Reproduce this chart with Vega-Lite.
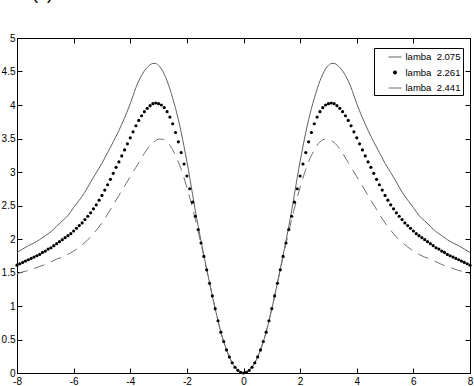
{
  "$schema": "https://vega.github.io/schema/vega-lite/v6.json",
  "width": 453,
  "height": 335,
  "autosize": "none",
  "padding": {"left": 17, "top": 38, "right": 4, "bottom": 13},
  "background": "white",
  "config": {
    "font": "Liberation Sans",
    "view": {"stroke": "black", "strokeWidth": 1},
    "axis": {"domainColor": "black", "tickColor": "black", "labelColor": "black", "grid": false, "tickSize": -5, "labelFontSize": 10, "labelFont": "Liberation Sans", "title": null, "domainWidth": 1, "tickWidth": 1}
  },
  "datasets": {
    "solid": [
      {"x":-8,"y":1.8},{"x":-7.8,"y":1.85},{"x":-7.6,"y":1.9},{"x":-7.4,"y":1.94},{"x":-7.2,"y":1.99},{"x":-7,"y":2.05},{"x":-6.8,"y":2.11},{"x":-6.6,"y":2.19},{"x":-6.4,"y":2.27},{"x":-6.2,"y":2.35},{"x":-6,"y":2.47},{"x":-5.8,"y":2.58},{"x":-5.6,"y":2.7},{"x":-5.4,"y":2.85},{"x":-5.2,"y":2.99},{"x":-5,"y":3.13},{"x":-4.8,"y":3.29},{"x":-4.6,"y":3.45},{"x":-4.4,"y":3.62},{"x":-4.2,"y":3.81},{"x":-4,"y":4.02},{"x":-3.9,"y":4.14},{"x":-3.8,"y":4.26},{"x":-3.7,"y":4.36},{"x":-3.6,"y":4.44},{"x":-3.5,"y":4.51},{"x":-3.4,"y":4.56},{"x":-3.3,"y":4.6},{"x":-3.2,"y":4.62},{"x":-3.1,"y":4.62},{"x":-3,"y":4.59},{"x":-2.9,"y":4.54},{"x":-2.8,"y":4.46},{"x":-2.7,"y":4.36},{"x":-2.6,"y":4.24},{"x":-2.5,"y":4.1},{"x":-2.4,"y":3.95},{"x":-2.3,"y":3.78},{"x":-2.2,"y":3.59},{"x":-2.1,"y":3.38},{"x":-2,"y":3.16},{"x":-1.9,"y":2.92},{"x":-1.8,"y":2.67},{"x":-1.7,"y":2.42},{"x":-1.6,"y":2.19},{"x":-1.5,"y":1.97},{"x":-1.4,"y":1.76},{"x":-1.3,"y":1.55},{"x":-1.2,"y":1.35},{"x":-1.1,"y":1.15},{"x":-1,"y":0.96},{"x":-0.9,"y":0.78},{"x":-0.8,"y":0.61},{"x":-0.7,"y":0.47},{"x":-0.6,"y":0.345},{"x":-0.5,"y":0.24},{"x":-0.4,"y":0.153},{"x":-0.3,"y":0.086},{"x":-0.2,"y":0.04},{"x":-0.1,"y":0.01},
      {"x":0,"y":0},
      {"x":0.1,"y":0.01},{"x":0.2,"y":0.04},{"x":0.3,"y":0.086},{"x":0.4,"y":0.153},{"x":0.5,"y":0.24},{"x":0.6,"y":0.345},{"x":0.7,"y":0.47},{"x":0.8,"y":0.61},{"x":0.9,"y":0.78},{"x":1,"y":0.96},{"x":1.1,"y":1.15},{"x":1.2,"y":1.35},{"x":1.3,"y":1.55},{"x":1.4,"y":1.76},{"x":1.5,"y":1.97},{"x":1.6,"y":2.19},{"x":1.7,"y":2.42},{"x":1.8,"y":2.67},{"x":1.9,"y":2.92},{"x":2,"y":3.16},{"x":2.1,"y":3.38},{"x":2.2,"y":3.59},{"x":2.3,"y":3.78},{"x":2.4,"y":3.95},{"x":2.5,"y":4.1},{"x":2.6,"y":4.24},{"x":2.7,"y":4.36},{"x":2.8,"y":4.46},{"x":2.9,"y":4.54},{"x":3,"y":4.59},{"x":3.1,"y":4.62},{"x":3.2,"y":4.62},{"x":3.3,"y":4.6},{"x":3.4,"y":4.56},{"x":3.5,"y":4.51},{"x":3.6,"y":4.44},{"x":3.7,"y":4.36},{"x":3.8,"y":4.26},{"x":3.9,"y":4.14},{"x":4,"y":4.02},{"x":4.2,"y":3.81},{"x":4.4,"y":3.62},{"x":4.6,"y":3.45},{"x":4.8,"y":3.29},{"x":5,"y":3.13},{"x":5.2,"y":2.99},{"x":5.4,"y":2.85},{"x":5.6,"y":2.7},{"x":5.8,"y":2.58},{"x":6,"y":2.47},{"x":6.2,"y":2.35},{"x":6.4,"y":2.27},{"x":6.6,"y":2.19},{"x":6.8,"y":2.11},{"x":7,"y":2.05},{"x":7.2,"y":1.99},{"x":7.4,"y":1.94},{"x":7.6,"y":1.9},{"x":7.8,"y":1.85},{"x":8,"y":1.8}
    ],
    "dash": [
      {"x":-8,"y":1.48},{"x":-7.8,"y":1.51},{"x":-7.6,"y":1.53},{"x":-7.4,"y":1.56},{"x":-7.2,"y":1.59},{"x":-7,"y":1.62},{"x":-6.8,"y":1.66},{"x":-6.6,"y":1.7},{"x":-6.4,"y":1.73},{"x":-6.2,"y":1.77},{"x":-6,"y":1.82},{"x":-5.8,"y":1.88},{"x":-5.6,"y":1.95},{"x":-5.4,"y":2.03},{"x":-5.2,"y":2.13},{"x":-5,"y":2.24},{"x":-4.8,"y":2.37},{"x":-4.6,"y":2.51},{"x":-4.4,"y":2.65},{"x":-4.2,"y":2.79},{"x":-4,"y":2.93},{"x":-3.9,"y":3.0},{"x":-3.8,"y":3.07},{"x":-3.7,"y":3.14},{"x":-3.6,"y":3.21},{"x":-3.5,"y":3.28},{"x":-3.4,"y":3.34},{"x":-3.3,"y":3.4},{"x":-3.2,"y":3.44},{"x":-3.1,"y":3.47},{"x":-3,"y":3.49},{"x":-2.9,"y":3.49},{"x":-2.8,"y":3.48},{"x":-2.7,"y":3.45},{"x":-2.6,"y":3.4},{"x":-2.5,"y":3.33},{"x":-2.4,"y":3.25},{"x":-2.3,"y":3.15},{"x":-2.2,"y":3.04},{"x":-2.1,"y":2.91},{"x":-2,"y":2.77},{"x":-1.9,"y":2.62},{"x":-1.8,"y":2.46},{"x":-1.7,"y":2.29},{"x":-1.6,"y":2.11},{"x":-1.5,"y":1.93},{"x":-1.4,"y":1.74},{"x":-1.2,"y":1.34},{"x":-1,"y":0.96},{"x":-0.8,"y":0.61},{"x":-0.6,"y":0.345},{"x":-0.4,"y":0.153},{"x":-0.2,"y":0.04},
      {"x":0,"y":0},
      {"x":0.2,"y":0.04},{"x":0.4,"y":0.153},{"x":0.6,"y":0.345},{"x":0.8,"y":0.61},{"x":1,"y":0.96},{"x":1.2,"y":1.34},{"x":1.4,"y":1.74},{"x":1.5,"y":1.93},{"x":1.6,"y":2.11},{"x":1.7,"y":2.29},{"x":1.8,"y":2.46},{"x":1.9,"y":2.62},{"x":2,"y":2.77},{"x":2.1,"y":2.91},{"x":2.2,"y":3.04},{"x":2.3,"y":3.15},{"x":2.4,"y":3.25},{"x":2.5,"y":3.33},{"x":2.6,"y":3.4},{"x":2.7,"y":3.45},{"x":2.8,"y":3.48},{"x":2.9,"y":3.49},{"x":3,"y":3.49},{"x":3.1,"y":3.47},{"x":3.2,"y":3.44},{"x":3.3,"y":3.4},{"x":3.4,"y":3.34},{"x":3.5,"y":3.28},{"x":3.6,"y":3.21},{"x":3.7,"y":3.14},{"x":3.8,"y":3.07},{"x":3.9,"y":3.0},{"x":4,"y":2.93},{"x":4.2,"y":2.79},{"x":4.4,"y":2.65},{"x":4.6,"y":2.51},{"x":4.8,"y":2.37},{"x":5,"y":2.24},{"x":5.2,"y":2.13},{"x":5.4,"y":2.03},{"x":5.6,"y":1.95},{"x":5.8,"y":1.88},{"x":6,"y":1.82},{"x":6.2,"y":1.77},{"x":6.4,"y":1.73},{"x":6.6,"y":1.7},{"x":6.8,"y":1.66},{"x":7,"y":1.62},{"x":7.2,"y":1.59},{"x":7.4,"y":1.56},{"x":7.6,"y":1.53},{"x":7.8,"y":1.51},{"x":8,"y":1.48}
    ],
    "dot": [
      {"x":-8,"y":1.61},{"x":-7.9,"y":1.63},{"x":-7.8,"y":1.65},{"x":-7.7,"y":1.67},{"x":-7.6,"y":1.69},{"x":-7.5,"y":1.71},{"x":-7.4,"y":1.73},{"x":-7.3,"y":1.75},{"x":-7.2,"y":1.77},{"x":-7.1,"y":1.8},{"x":-7,"y":1.82},{"x":-6.9,"y":1.85},{"x":-6.8,"y":1.87},{"x":-6.7,"y":1.9},{"x":-6.6,"y":1.93},{"x":-6.5,"y":1.96},{"x":-6.4,"y":1.99},{"x":-6.3,"y":2.02},{"x":-6.2,"y":2.05},{"x":-6.1,"y":2.08},{"x":-6,"y":2.12},{"x":-5.9,"y":2.16},{"x":-5.8,"y":2.2},{"x":-5.7,"y":2.24},{"x":-5.6,"y":2.29},{"x":-5.5,"y":2.34},{"x":-5.4,"y":2.39},{"x":-5.3,"y":2.45},{"x":-5.2,"y":2.51},{"x":-5.1,"y":2.58},{"x":-5,"y":2.65},{"x":-4.9,"y":2.73},{"x":-4.8,"y":2.81},{"x":-4.7,"y":2.89},{"x":-4.6,"y":2.98},{"x":-4.5,"y":3.07},{"x":-4.4,"y":3.15},{"x":-4.3,"y":3.24},{"x":-4.2,"y":3.33},{"x":-4.1,"y":3.42},{"x":-4,"y":3.51},{"x":-3.9,"y":3.6},{"x":-3.8,"y":3.69},{"x":-3.7,"y":3.77},{"x":-3.6,"y":3.84},{"x":-3.5,"y":3.9},{"x":-3.4,"y":3.95},{"x":-3.3,"y":3.99},{"x":-3.2,"y":4.02},{"x":-3.1,"y":4.03},{"x":-3,"y":4.02},{"x":-2.9,"y":4.0},{"x":-2.8,"y":3.96},{"x":-2.7,"y":3.9},{"x":-2.6,"y":3.82},{"x":-2.5,"y":3.72},{"x":-2.4,"y":3.59},{"x":-2.3,"y":3.45},{"x":-2.2,"y":3.29},{"x":-2.1,"y":3.12},{"x":-2,"y":2.94},{"x":-1.9,"y":2.75},{"x":-1.8,"y":2.55},{"x":-1.7,"y":2.34},{"x":-1.6,"y":2.14},{"x":-1.5,"y":1.94},{"x":-1.4,"y":1.74},{"x":-1.3,"y":1.54},{"x":-1.2,"y":1.34},{"x":-1.1,"y":1.15},{"x":-1,"y":0.96},{"x":-0.9,"y":0.78},{"x":-0.8,"y":0.61},{"x":-0.7,"y":0.47},{"x":-0.6,"y":0.345},{"x":-0.5,"y":0.24},{"x":-0.4,"y":0.153},{"x":-0.3,"y":0.086},{"x":-0.2,"y":0.04},{"x":-0.1,"y":0.01},
      {"x":0,"y":0},
      {"x":0.1,"y":0.01},{"x":0.2,"y":0.04},{"x":0.3,"y":0.086},{"x":0.4,"y":0.153},{"x":0.5,"y":0.24},{"x":0.6,"y":0.345},{"x":0.7,"y":0.47},{"x":0.8,"y":0.61},{"x":0.9,"y":0.78},{"x":1,"y":0.96},{"x":1.1,"y":1.15},{"x":1.2,"y":1.34},{"x":1.3,"y":1.54},{"x":1.4,"y":1.74},{"x":1.5,"y":1.94},{"x":1.6,"y":2.14},{"x":1.7,"y":2.34},{"x":1.8,"y":2.55},{"x":1.9,"y":2.75},{"x":2,"y":2.94},{"x":2.1,"y":3.12},{"x":2.2,"y":3.29},{"x":2.3,"y":3.45},{"x":2.4,"y":3.59},{"x":2.5,"y":3.72},{"x":2.6,"y":3.82},{"x":2.7,"y":3.9},{"x":2.8,"y":3.96},{"x":2.9,"y":4.0},{"x":3,"y":4.02},{"x":3.1,"y":4.03},{"x":3.2,"y":4.02},{"x":3.3,"y":3.99},{"x":3.4,"y":3.95},{"x":3.5,"y":3.9},{"x":3.6,"y":3.84},{"x":3.7,"y":3.77},{"x":3.8,"y":3.69},{"x":3.9,"y":3.6},{"x":4,"y":3.51},{"x":4.1,"y":3.42},{"x":4.2,"y":3.33},{"x":4.3,"y":3.24},{"x":4.4,"y":3.15},{"x":4.5,"y":3.07},{"x":4.6,"y":2.98},{"x":4.7,"y":2.89},{"x":4.8,"y":2.81},{"x":4.9,"y":2.73},{"x":5,"y":2.65},{"x":5.1,"y":2.58},{"x":5.2,"y":2.51},{"x":5.3,"y":2.45},{"x":5.4,"y":2.39},{"x":5.5,"y":2.34},{"x":5.6,"y":2.29},{"x":5.7,"y":2.24},{"x":5.8,"y":2.2},{"x":5.9,"y":2.16},{"x":6,"y":2.12},{"x":6.1,"y":2.08},{"x":6.2,"y":2.05},{"x":6.3,"y":2.02},{"x":6.4,"y":1.99},{"x":6.5,"y":1.96},{"x":6.6,"y":1.93},{"x":6.7,"y":1.9},{"x":6.8,"y":1.87},{"x":6.9,"y":1.85},{"x":7,"y":1.82},{"x":7.1,"y":1.8},{"x":7.2,"y":1.77},{"x":7.3,"y":1.75},{"x":7.4,"y":1.73},{"x":7.5,"y":1.71},{"x":7.6,"y":1.69},{"x":7.7,"y":1.67},{"x":7.8,"y":1.65},{"x":7.9,"y":1.63},{"x":8,"y":1.61}
    ],
    "panel": [{"label": "(c)", "x": -7.1, "y": 5.58}]
  },
  "resolve": {"axis": {"x": "independent", "y": "independent"}},
  "layer": [
    {
      "data": {"name": "solid"},
      "mark": {"type": "line", "strokeWidth": 1, "interpolate": "monotone"},
      "encoding": {
        "x": {"field": "x", "type": "quantitative", "scale": {"domain": [-8, 8], "nice": false, "zero": false},
              "axis": {"orient": "bottom", "values": [-8, -6, -4, -2, 0, 2, 4, 6, 8], "labelExpr": "'' + datum.value", "labelPadding": 8, "labelFlush": false}},
        "y": {"field": "y", "type": "quantitative", "scale": {"domain": [0, 5], "nice": false},
              "axis": {"orient": "left", "values": [0, 0.5, 1, 1.5, 2, 2.5, 3, 3.5, 4, 4.5, 5], "labelExpr": "'' + datum.value", "labelPadding": 7, "labelFlush": false}},
        "color": {"datum": "lamba\u00a0 2.075", "type": "nominal",
          "scale": {"domain": ["lamba\u00a0 2.075", "lamba\u00a0 2.261", "lamba\u00a0 2.441"], "range": ["#606060", "#000000", "#707070"]},
          "legend": {
            "title": null, "orient": "none", "legendX": 357, "legendY": 10,
            "strokeColor": "black", "fillColor": "white", "padding": 2,
            "symbolOffset": 12, "symbolSize": 100, "symbolType": "stroke", "symbolStrokeWidth": 1,
            "labelFontSize": 9.5, "labelFont": "Liberation Sans", "labelColor": "black", "labelOffset": 3.5, "rowPadding": 3.5,
            "encode": {"symbols": {"update": {
              "shape": {"signal": "datum.value === 'lamba\u00a0 2.261' ? 'circle' : 'stroke'"},
              "size": {"signal": "datum.value === 'lamba\u00a0 2.261' ? 10 : 169"},
              "fill": {"signal": "datum.value === 'lamba\u00a0 2.261' ? 'black' : 'transparent'"},
              "stroke": {"signal": "datum.value === 'lamba\u00a0 2.261' ? 'black' : '#606060'"},
              "strokeWidth": {"value": 1},
              "opacity": {"value": 1}
            }}}
          }
        }
      }
    },
    {
      "data": {"name": "dash"},
      "mark": {"type": "line", "strokeWidth": 1, "strokeDash": [11, 7], "interpolate": "monotone"},
      "encoding": {
        "x": {"field": "x", "type": "quantitative", "axis": null},
        "y": {"field": "y", "type": "quantitative", "axis": null},
        "color": {"datum": "lamba\u00a0 2.441", "type": "nominal"}
      }
    },
    {
      "data": {"name": "dot"},
      "mark": {"type": "point", "filled": true, "size": 10, "opacity": 1},
      "encoding": {
        "x": {"field": "x", "type": "quantitative",
              "axis": {"orient": "top", "values": [-8, -6, -4, -2, 0, 2, 4, 6, 8], "labels": false}},
        "y": {"field": "y", "type": "quantitative",
              "axis": {"orient": "right", "values": [0, 0.5, 1, 1.5, 2, 2.5, 3, 3.5, 4, 4.5, 5], "labels": false}},
        "color": {"datum": "lamba\u00a0 2.261", "type": "nominal"}
      }
    },
    {
      "data": {"name": "panel"},
      "mark": {"type": "text", "fontSize": 18, "font": "Liberation Sans", "baseline": "alphabetic", "align": "center", "color": "black", "clip": false, "letterSpacing": 2},
      "encoding": {
        "x": {"field": "x", "type": "quantitative", "axis": null},
        "y": {"field": "y", "type": "quantitative", "axis": null},
        "text": {"field": "label"}
      }
    }
  ]
}
